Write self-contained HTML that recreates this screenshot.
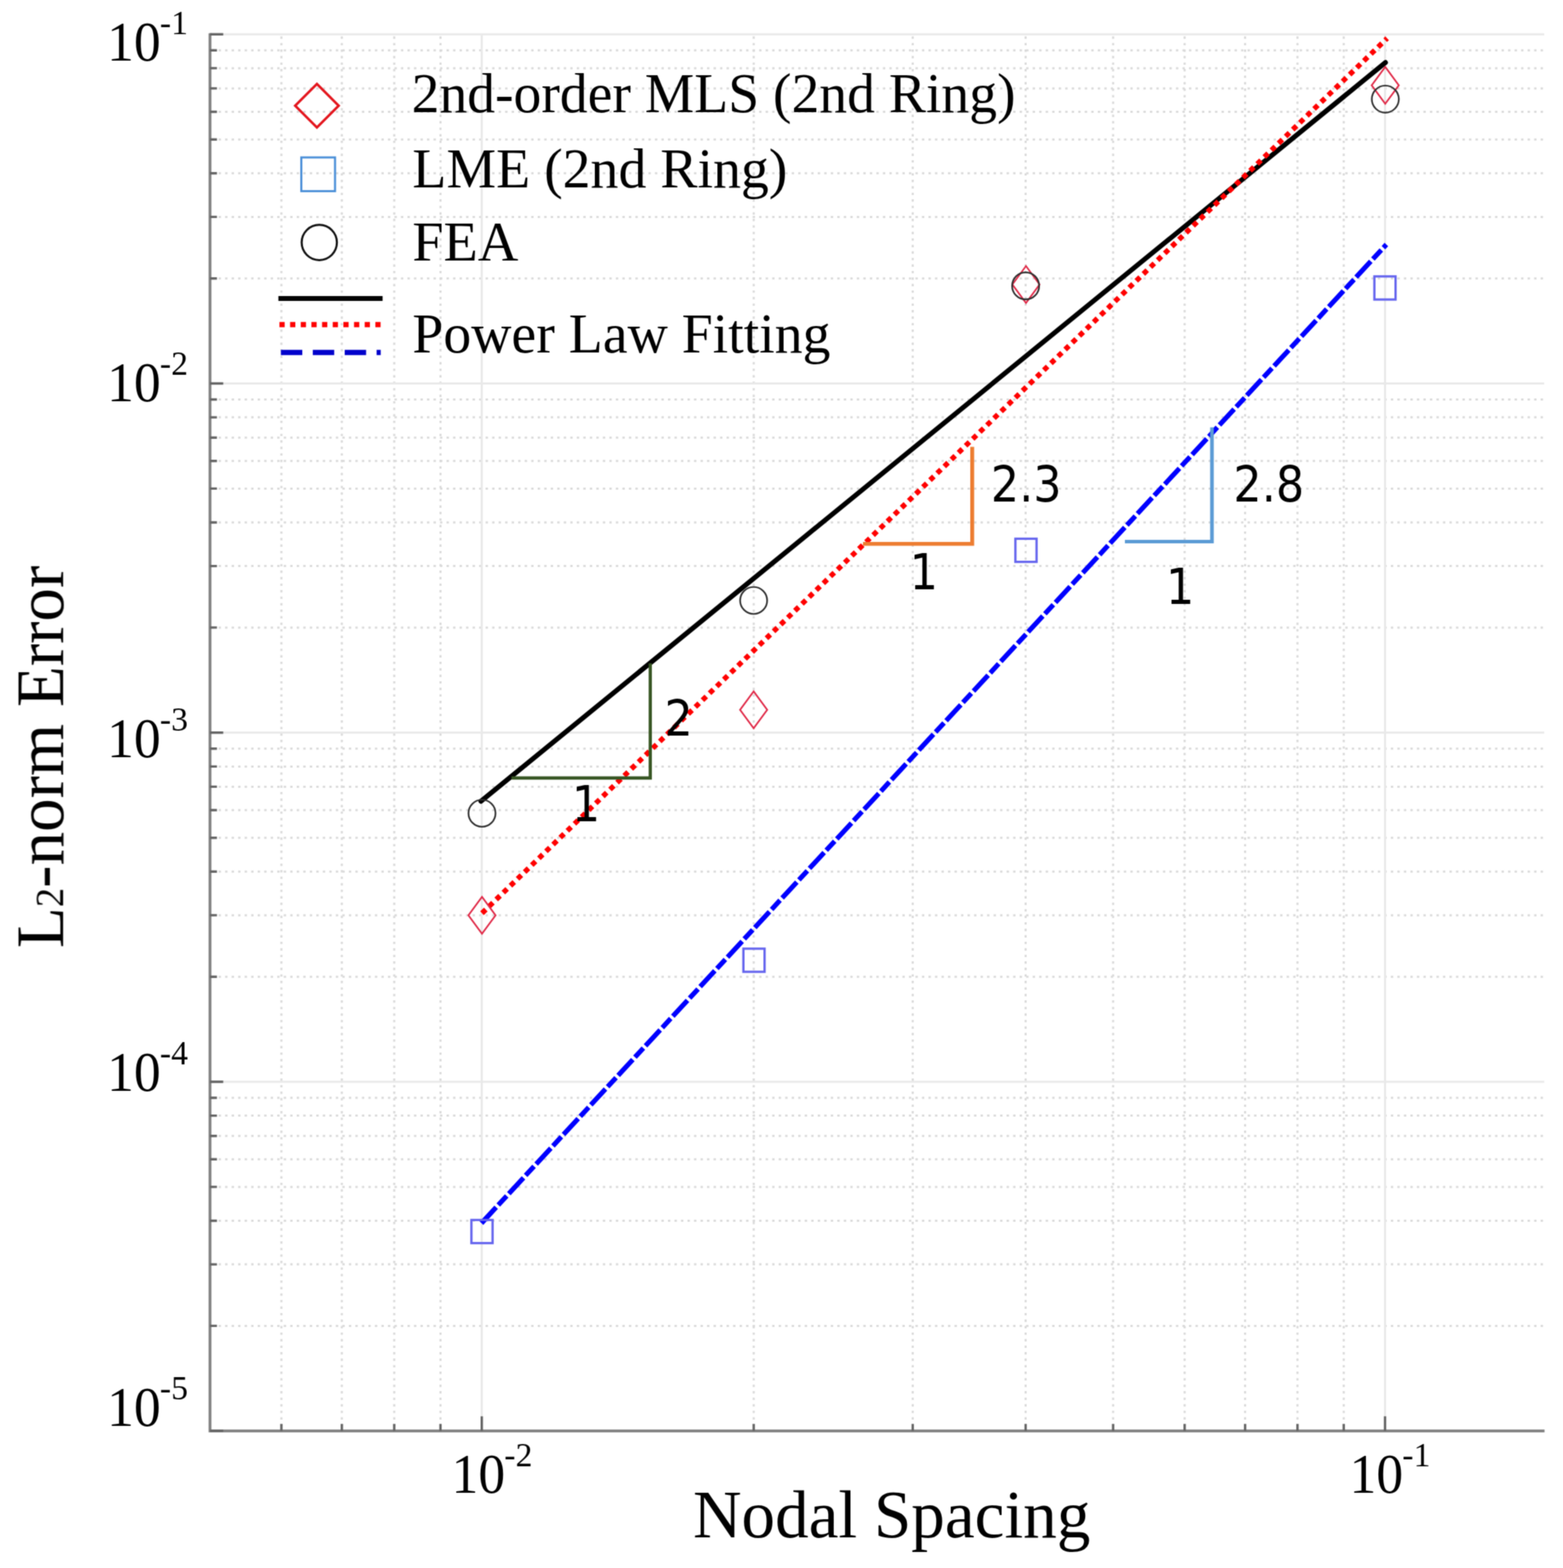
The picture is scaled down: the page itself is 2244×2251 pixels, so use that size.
<!DOCTYPE html>
<html><head><meta charset="utf-8"><title>L2-norm Error vs Nodal Spacing</title>
<style>html,body{margin:0;padding:0;background:#fff;}body{width:2244px;height:2251px;overflow:hidden;}svg{display:block;}</style>
</head><body>
<svg width="2244" height="2251" viewBox="0 0 2244 2251"><defs><filter id="soft" x="0" y="0" width="2244" height="2251" filterUnits="userSpaceOnUse" color-interpolation-filters="sRGB"><feConvolveMatrix order="3" kernelMatrix="44 122 44 122 338 122 44 122 44" divisor="1002" edgeMode="none"/></filter></defs><rect width="2244" height="2251" fill="#fff"/><g filter="url(#soft)"><path d="M304.5 1903.4H2217M304.5 1815.1H2217M304.5 1752.5H2217M304.5 1703.9H2217M304.5 1664.3H2217M304.5 1630.7H2217M304.5 1601.6H2217M304.5 1576H2217M304.5 1402.2H2217M304.5 1313.9H2217M304.5 1251.3H2217M304.5 1202.7H2217M304.5 1163H2217M304.5 1129.4H2217M304.5 1100.4H2217M304.5 1074.7H2217M304.5 900.9H2217M304.5 812.6H2217M304.5 750H2217M304.5 701.4H2217M304.5 661.8H2217M304.5 628.2H2217M304.5 599.1H2217M304.5 573.5H2217M304.5 399.7H2217M304.5 311.4H2217M304.5 248.8H2217M304.5 200.2H2217M304.5 160.5H2217M304.5 126.9H2217M304.5 97.9H2217M304.5 72.2H2217" stroke="#dadada" stroke-width="3" stroke-dasharray="3.4 5.95" fill="none"/>
<path d="M404 52.3V2052.3M490.8 52.3V2052.3M566 52.3V2052.3M632.4 52.3V2052.3M1082.1 52.3V2052.3M1310.4 52.3V2052.3M1472.5 52.3V2052.3M1598.1 52.3V2052.3M1700.8 52.3V2052.3M1787.6 52.3V2052.3M1862.8 52.3V2052.3M1929.2 52.3V2052.3" stroke="#dadada" stroke-width="3" stroke-dasharray="3.4 5.95" fill="none"/>
<path d="M301.5 1553H2217M301.5 1051.8H2217M301.5 550.5H2217M301.5 49.3H2217M691.7 49.3V2054.3M1988.5 49.3V2054.3" stroke="#e9e9e9" stroke-width="3" fill="none"/>
<path d="M301.5 47.8V2056.3M299.5 2054.3H2217.5" stroke="#808080" stroke-width="4" fill="none"/>
<path d="M301.5 2054.3H320.5M301.5 1553H320.5M301.5 1051.8H320.5M301.5 550.5H320.5M301.5 49.3H320.5M301.5 1903.4H311.5M301.5 1815.1H311.5M301.5 1752.5H311.5M301.5 1703.9H311.5M301.5 1664.3H311.5M301.5 1630.7H311.5M301.5 1601.6H311.5M301.5 1576H311.5M301.5 1402.2H311.5M301.5 1313.9H311.5M301.5 1251.3H311.5M301.5 1202.7H311.5M301.5 1163H311.5M301.5 1129.4H311.5M301.5 1100.4H311.5M301.5 1074.7H311.5M301.5 900.9H311.5M301.5 812.6H311.5M301.5 750H311.5M301.5 701.4H311.5M301.5 661.8H311.5M301.5 628.2H311.5M301.5 599.1H311.5M301.5 573.5H311.5M301.5 399.7H311.5M301.5 311.4H311.5M301.5 248.8H311.5M301.5 200.2H311.5M301.5 160.5H311.5M301.5 126.9H311.5M301.5 97.9H311.5M301.5 72.2H311.5M691.7 2054.3V2033.3M1988.5 2054.3V2033.3M404 2054.3V2044.3M490.8 2054.3V2044.3M566 2054.3V2044.3M632.4 2054.3V2044.3M1082.1 2054.3V2044.3M1310.4 2054.3V2044.3M1472.5 2054.3V2044.3M1598.1 2054.3V2044.3M1700.8 2054.3V2044.3M1787.6 2054.3V2044.3M1862.8 2054.3V2044.3M1929.2 2054.3V2044.3" stroke="#646464" stroke-width="3.4" fill="none"/>
<path d="M690.5 1150.2L1989.1 89.8" stroke="#000" stroke-width="7" stroke-linecap="round" fill="none"/>
<path d="M692 1311L1991.5 55" stroke="#ff0000" stroke-width="7.4" stroke-dasharray="7.6 6.6" fill="none"/>
<path d="M691.3 1756L1990.4 351" stroke="#0000ff" stroke-width="7" stroke-dasharray="31 4.5 17.8 4.5" fill="none"/>
<path d="M734.4 1116.9H933.6V952.3" stroke="#375623" stroke-width="4.6" fill="none"/>
<path d="M1239 780.8H1395.8V641.5" stroke="#ed7d31" stroke-width="5.6" fill="none"/>
<path d="M1615 777.5H1740V613.4" stroke="#5b9bd5" stroke-width="5.2" fill="none"/>
<path d="M692 1287.5L711.5 1314L692 1340.5L672.5 1314Z" stroke="#e02a48" stroke-width="2.4" fill="none"/>
<path d="M1082 992.5L1101.5 1019L1082 1045.5L1062.5 1019Z" stroke="#e02a48" stroke-width="2.4" fill="none"/>
<path d="M1473 381.9L1492.5 408.4L1473 434.9L1453.5 408.4Z" stroke="#e02a48" stroke-width="2.4" fill="none"/>
<path d="M1988.8 96L2008.3 122.5L1988.8 149L1969.3 122.5Z" stroke="#e02a48" stroke-width="2.4" fill="none"/>
<rect x="676.8" y="1751.4" width="30.4" height="33.2" stroke="#6565ee" stroke-width="3.3" fill="none"/>
<rect x="1067.3" y="1361.9" width="30.4" height="33.2" stroke="#6565ee" stroke-width="3.3" fill="none"/>
<rect x="1457.8" y="773.4" width="30.4" height="33.2" stroke="#6565ee" stroke-width="3.3" fill="none"/>
<rect x="1973.2" y="396.8" width="30.4" height="33.2" stroke="#6565ee" stroke-width="3.3" fill="none"/>
<circle cx="692" cy="1167.5" r="19.4" stroke="#2e2e2e" stroke-width="2.4" fill="none"/>
<circle cx="1082" cy="862" r="19.4" stroke="#2e2e2e" stroke-width="2.4" fill="none"/>
<circle cx="1472.5" cy="410.4" r="19.4" stroke="#2e2e2e" stroke-width="2.4" fill="none"/>
<circle cx="1988.9" cy="142.3" r="19.4" stroke="#2e2e2e" stroke-width="2.4" fill="none"/>
<text x="954" y="1055.8" style="font-family:&quot;DejaVu Sans Condensed&quot;,&quot;DejaVu Sans&quot;,sans-serif;font-size:71px;fill:#000">2</text>
<text x="820.9" y="1178.5" style="font-family:&quot;DejaVu Sans Condensed&quot;,&quot;DejaVu Sans&quot;,sans-serif;font-size:71px;fill:#000">1</text>
<text x="1422.5" y="720.4" style="font-family:&quot;DejaVu Sans Condensed&quot;,&quot;DejaVu Sans&quot;,sans-serif;font-size:71px;fill:#000">2.3</text>
<text x="1306" y="846" style="font-family:&quot;DejaVu Sans Condensed&quot;,&quot;DejaVu Sans&quot;,sans-serif;font-size:71px;fill:#000">1</text>
<text x="1770.8" y="720.4" style="font-family:&quot;DejaVu Sans Condensed&quot;,&quot;DejaVu Sans&quot;,sans-serif;font-size:71px;fill:#000">2.8</text>
<text x="1674" y="867" style="font-family:&quot;DejaVu Sans Condensed&quot;,&quot;DejaVu Sans&quot;,sans-serif;font-size:71px;fill:#000">1</text>
<text x="153.7" y="87.2" textLength="77" lengthAdjust="spacingAndGlyphs" style="font-family:&quot;Liberation Serif&quot;,&quot;Times New Roman&quot;,serif;fill:#000;font-size:80.6px">10</text>
<text x="229.6" y="49" style="font-family:&quot;Liberation Serif&quot;,&quot;Times New Roman&quot;,serif;fill:#000;font-size:48.3px">-1</text>
<text x="153.7" y="576.3" textLength="77" lengthAdjust="spacingAndGlyphs" style="font-family:&quot;Liberation Serif&quot;,&quot;Times New Roman&quot;,serif;fill:#000;font-size:80.6px">10</text>
<text x="229.6" y="538.1" style="font-family:&quot;Liberation Serif&quot;,&quot;Times New Roman&quot;,serif;fill:#000;font-size:48.3px">-2</text>
<text x="153.7" y="1086.7" textLength="77" lengthAdjust="spacingAndGlyphs" style="font-family:&quot;Liberation Serif&quot;,&quot;Times New Roman&quot;,serif;fill:#000;font-size:80.6px">10</text>
<text x="229.6" y="1048.5" style="font-family:&quot;Liberation Serif&quot;,&quot;Times New Roman&quot;,serif;fill:#000;font-size:48.3px">-3</text>
<text x="153.7" y="1566" textLength="77" lengthAdjust="spacingAndGlyphs" style="font-family:&quot;Liberation Serif&quot;,&quot;Times New Roman&quot;,serif;fill:#000;font-size:80.6px">10</text>
<text x="229.6" y="1527.8" style="font-family:&quot;Liberation Serif&quot;,&quot;Times New Roman&quot;,serif;fill:#000;font-size:48.3px">-4</text>
<text x="153.7" y="2047.2" textLength="77" lengthAdjust="spacingAndGlyphs" style="font-family:&quot;Liberation Serif&quot;,&quot;Times New Roman&quot;,serif;fill:#000;font-size:80.6px">10</text>
<text x="229.6" y="2009" style="font-family:&quot;Liberation Serif&quot;,&quot;Times New Roman&quot;,serif;fill:#000;font-size:48.3px">-5</text>
<text x="648.2" y="2143.1" textLength="77" lengthAdjust="spacingAndGlyphs" style="font-family:&quot;Liberation Serif&quot;,&quot;Times New Roman&quot;,serif;fill:#000;font-size:80.6px">10</text>
<text x="724.1" y="2104.9" style="font-family:&quot;Liberation Serif&quot;,&quot;Times New Roman&quot;,serif;fill:#000;font-size:48.3px">-2</text>
<text x="1937.4" y="2143.1" textLength="77" lengthAdjust="spacingAndGlyphs" style="font-family:&quot;Liberation Serif&quot;,&quot;Times New Roman&quot;,serif;fill:#000;font-size:80.6px">10</text>
<text x="2013.3" y="2104.9" style="font-family:&quot;Liberation Serif&quot;,&quot;Times New Roman&quot;,serif;fill:#000;font-size:48.3px">-1</text>
<text x="994.9" y="2206.6" textLength="570.5" lengthAdjust="spacingAndGlyphs" style="font-family:&quot;Liberation Serif&quot;,&quot;Times New Roman&quot;,serif;fill:#000;font-size:97px">Nodal Spacing</text>
<text transform="translate(90.6 1361.1) rotate(-90)" x="0" y="0" textLength="549" lengthAdjust="spacingAndGlyphs" style="font-family:&quot;Liberation Serif&quot;,&quot;Times New Roman&quot;,serif;fill:#000;font-size:97px">L<tspan style="font-size:56px">2</tspan>-norm Error</text>
<path d="M455 120.6L486.2 151.8L455 183L423.8 151.8Z" stroke="#e3151d" stroke-width="3.6" fill="none"/>
<rect x="432.6" y="226" width="48.4" height="48.4" stroke="#4a8fd8" stroke-width="3" fill="none"/>
<circle cx="458.4" cy="348.1" r="25.3" stroke="#111" stroke-width="3" fill="none"/>
<path d="M399.7 428.5H549.3" stroke="#000" stroke-width="7" fill="none"/>
<path d="M401.2 466.1H546.6" stroke="#ff0000" stroke-width="7.5" stroke-dasharray="7.5 7.8" fill="none"/>
<path d="M403.3 506H546.6" stroke="#0000cc" stroke-width="7.5" stroke-dasharray="30.7 15.1" fill="none"/>
<text x="591" y="160.6" textLength="867" lengthAdjust="spacingAndGlyphs" style="font-family:&quot;Liberation Serif&quot;,&quot;Times New Roman&quot;,serif;font-size:80.6px;fill:#000">2nd-order MLS (2nd Ring)</text>
<text x="592" y="268.6" textLength="538.5" lengthAdjust="spacingAndGlyphs" style="font-family:&quot;Liberation Serif&quot;,&quot;Times New Roman&quot;,serif;font-size:80.6px;fill:#000">LME (2nd Ring)</text>
<text x="592" y="374.1" style="font-family:&quot;Liberation Serif&quot;,&quot;Times New Roman&quot;,serif;font-size:80.6px;fill:#000">FEA</text>
<text x="592" y="506" textLength="600.4" lengthAdjust="spacingAndGlyphs" style="font-family:&quot;Liberation Serif&quot;,&quot;Times New Roman&quot;,serif;font-size:80.6px;fill:#000">Power Law Fitting</text></g></svg>
</body></html>
